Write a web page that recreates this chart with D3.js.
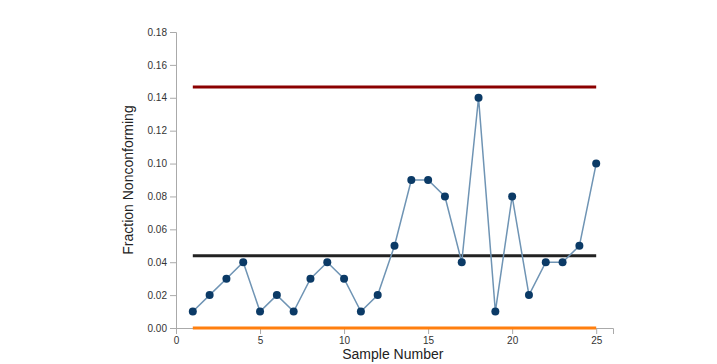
<!DOCTYPE html>
<html>
<head>
<meta charset="utf-8">
<script src="https://d3js.org/d3.v7.min.js"></script>
<style>
body { margin: 0; background: #fff; overflow: hidden; }
text { font-family: "Liberation Sans", Arial, sans-serif; }
.axis text { font-size: 10px; fill: #333; }
.axis path, .axis line { stroke: #aaa; }
</style>
</head>
<body>
<svg id="vis" width="717" height="364"></svg>
<script>
// sample numbers and fraction nonconforming
var samples = [1,2,3,4,5,6,7,8,9,10,11,12,13,14,15,16,17,18,19,20,21,22,23,24,25];
var fractions = [0.01,0.02,0.03,0.04,0.01,0.02,0.01,0.03,0.04,0.03,0.01,0.02,0.05,0.09,0.09,0.08,0.04,0.14,0.01,0.08,0.02,0.04,0.04,0.05,0.10];
var yTicks = [0,0.02,0.04,0.06,0.08,0.10,0.12,0.14,0.16,0.18];
var xTicks = [0,5,10,15,20,25];
var limitNames = ["UCL","CL","LCL"];
var limitValues = [0.1466, 0.044, 0];
var limitColors = ["#8b0000", "#222", "#ff7f0e"];

var data = samples.map(function(s, i) { return {sample: s, p: fractions[i]}; });

var svg = d3.select("#vis"),
    margin = {top: 32, left: 176, right: 104, bottom: 36},
    width = +svg.attr("width") - margin.left - margin.right,
    height = +svg.attr("height") - margin.top - margin.bottom,
    g = svg.append("g").attr("transform", "translate(" + margin.left + "," + margin.top + ")");

var x = d3.scaleLinear().domain([0, 26]).range([0, width]);
var y = d3.scaleLinear().domain([0, 0.18]).range([height, 0]);

g.append("g")
    .attr("class", "axis")
    .attr("transform", "translate(0," + height + ")")
    .call(d3.axisBottom(x).tickValues(xTicks).tickFormat(d3.format("d")));

g.append("g")
    .attr("class", "axis")
    .call(d3.axisLeft(y).tickValues(yTicks).tickFormat(d3.format(".2f")));

// control limits from first to last sample
g.selectAll(".limit")
    .data(limitValues)
  .enter().append("line")
    .attr("class", "limit")
    .attr("x1", x(samples[0]))
    .attr("x2", x(samples[samples.length - 1]))
    .attr("y1", function(d) { return y(d); })
    .attr("y2", function(d) { return y(d); })
    .attr("stroke", function(d, i) { return limitColors[i]; })
    .attr("stroke-width", 3);

var line = d3.line()
    .x(function(d) { return x(d.sample); })
    .y(function(d) { return y(d.p); });

g.append("path")
    .datum(data)
    .attr("d", line)
    .attr("fill", "none")
    .attr("stroke", "#6f94b4")
    .attr("stroke-width", 1.5);

g.selectAll(".dot")
    .data(data)
  .enter().append("circle")
    .attr("class", "dot")
    .attr("cx", function(d) { return x(d.sample); })
    .attr("cy", function(d) { return y(d.p); })
    .attr("r", 4)
    .attr("fill", "#0b3a66");

svg.append("text")
    .attr("x", margin.left + x(12.9))
    .attr("y", 359)
    .attr("text-anchor", "middle")
    .attr("font-size", "14px")
    .attr("fill", "#222")
    .text("Sample Number");

svg.append("text")
    .attr("transform", "translate(133," + (margin.top + height / 2) + ") rotate(-90)")
    .attr("text-anchor", "middle")
    .attr("font-size", "14px")
    .attr("fill", "#222")
    .text("Fraction Nonconforming");
</script>
</body>
</html>
